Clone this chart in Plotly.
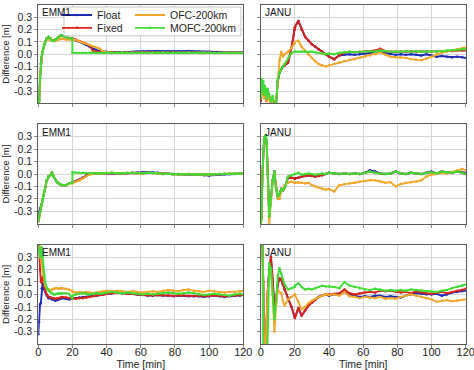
import plotly.graph_objects as go

# ---------------- data ----------------
T = [0, 0.5, 1, 1.5, 2, 2.5, 3, 3.5, 4, 5,
     6, 7, 8, 9, 10, 11, 12, 13, 14, 16,
     18, 19.9, 20, 22, 24, 26, 28, 30, 32, 34,
     36, 38, 40, 43, 46, 49, 52, 55, 58, 61,
     64, 67, 70, 73, 76, 79, 82, 85, 88, 91,
     94, 97, 100, 103, 106, 109, 112, 115, 118, 120]

series_names = ["Float", "Fixed", "OFC-200km", "MOFC-200km"]
stations = ["EMM1", "JANU"]

# ---- row 1, EMM1 ----
emm1_r1_float = [-0.40, -0.37, -0.19, -0.08, -0.02, 0.02, 0.05, 0.08, 0.10, 0.13,
                 0.14, 0.13, 0.11, 0.11, 0.12, 0.13, 0.14, 0.15, 0.15, 0.14,
                 0.13, 0.125, 0.125, 0.115, 0.105, 0.09, 0.075, 0.06, 0.045, 0.035,
                 0.025, 0.02, 0.02, 0.018, 0.017, 0.016, 0.018, 0.02, 0.022, 0.024,
                 0.025, 0.024, 0.026, 0.025, 0.024, 0.022, 0.024, 0.025, 0.026, 0.024,
                 0.022, 0.02, 0.021, 0.018, 0.017, 0.016, 0.015, 0.016, 0.015, 0.015]
emm1_r1_fixed = [-0.40, -0.38, -0.20, -0.08, -0.02, 0.02, 0.05, 0.08, 0.10, 0.13,
                 0.14, 0.13, 0.11, 0.11, 0.12, 0.13, 0.14, 0.15, 0.15, 0.14,
                 0.13, 0.125, 0.125, 0.118, 0.108, 0.097, 0.085, 0.072, 0.025, 0.02,
                 0.018, 0.015, 0.014, 0.013, 0.012, 0.013, 0.014, 0.013, 0.012, 0.014,
                 0.013, 0.012, 0.013, 0.014, 0.012, 0.013, 0.012, 0.013, 0.014, 0.012,
                 0.013, 0.012, 0.011, 0.012, 0.013, 0.012, 0.011, 0.012, 0.011, 0.012]
emm1_r1_ofc = [-0.40, -0.38, -0.20, -0.08, -0.02, 0.02, 0.05, 0.08, 0.10, 0.12,
               0.12, 0.12, 0.11, 0.105, 0.11, 0.115, 0.12, 0.125, 0.125, 0.12,
               0.12, 0.12, 0.12, 0.115, 0.105, 0.095, 0.085, 0.075, 0.065, 0.055,
               0.045, 0.02, 0.015, 0.013, 0.012, 0.013, 0.012, 0.011, 0.012, 0.013,
               0.012, 0.011, 0.012, 0.013, 0.012, 0.011, 0.012, 0.012, 0.013, 0.012,
               0.011, 0.012, 0.012, 0.011, 0.012, 0.013, 0.012, 0.011, 0.012, 0.012]
emm1_r1_mofc = [-0.40, -0.38, -0.20, -0.08, -0.02, 0.02, 0.05, 0.08, 0.10, 0.13,
                0.14, 0.13, 0.11, 0.11, 0.12, 0.13, 0.14, 0.15, 0.15, 0.14,
                0.13, 0.125, 0.012, 0.011, 0.010, 0.012, 0.009, 0.011, 0.013, 0.010,
                0.011, 0.009, 0.012, 0.010, 0.011, 0.013, 0.010, 0.009, 0.011, 0.012,
                0.010, 0.011, 0.009, 0.012, 0.010, 0.011, 0.010, 0.012, 0.011, 0.009,
                0.010, 0.012, 0.011, 0.010, 0.009, 0.011, 0.010, 0.012, 0.010, 0.011]

# ---- row 1, JANU ----
janu_r1_float = [-0.38, -0.25, -0.32, -0.25, -0.35, -0.28, -0.32, -0.38, -0.30, -0.35,
                 -0.39, -0.36, -0.40, -0.40, -0.22, -0.15, -0.12, -0.10, -0.09, -0.07,
                 0.05, 0.20, 0.22, 0.27, 0.20, 0.14, 0.11, 0.08, 0.06, 0.04,
                 0.02, 0.0, -0.02, -0.04, -0.01, -0.005, 0.0, -0.005, 0.0, 0.005,
                 0.01, 0.01, 0.02, 0.01, 0.0, -0.005, 0.0, -0.005, 0.0, -0.005,
                 -0.01, 0.0, -0.01, -0.02, -0.015, -0.02, -0.025, -0.02, -0.025, -0.03]
janu_r1_fixed = [-0.38, -0.25, -0.32, -0.25, -0.35, -0.28, -0.32, -0.38, -0.30, -0.35,
                 -0.39, -0.36, -0.40, -0.40, -0.22, -0.15, -0.12, -0.10, -0.09, -0.07,
                 0.05, 0.20, 0.22, 0.27, 0.20, 0.14, 0.11, 0.08, 0.06, 0.04,
                 0.02, 0.0, -0.02, -0.04, -0.01, 0.01, 0.02, 0.015, 0.02, 0.02,
                 0.025, 0.03, 0.045, 0.025, 0.02, 0.02, 0.02, 0.02, 0.02, 0.02,
                 0.02, 0.02, 0.02, 0.02, 0.025, 0.025, 0.025, 0.03, 0.03, 0.03]
janu_r1_ofc = [-0.36, -0.28, -0.33, -0.30, -0.36, -0.30, -0.35, -0.38, -0.34, -0.37,
               -0.40, -0.38, -0.40, -0.40, -0.25, -0.05, 0.02, -0.02, 0.0, 0.02,
               0.05, 0.09, 0.10, 0.11, 0.06, 0.03, 0.0, -0.03, -0.06, -0.08,
               -0.09, -0.10, -0.09, -0.08, -0.065, -0.055, -0.045, -0.04, -0.03, -0.02,
               -0.01, 0.0, 0.015, -0.005, -0.02, -0.025, -0.025, -0.03, -0.04, -0.045,
               -0.05, -0.035, -0.02, 0.0, 0.015, 0.025, 0.03, 0.04, 0.05, 0.055]
janu_r1_mofc = [-0.35, -0.20, -0.30, -0.22, -0.33, -0.26, -0.30, -0.36, -0.28, -0.33,
                -0.38, -0.34, -0.40, -0.40, -0.20, -0.15, -0.12, -0.10, -0.08, -0.03,
                0.01, 0.02, 0.02, 0.02, 0.022, 0.02, 0.018, 0.02, 0.015, 0.01,
                0.01, 0.0, 0.005, 0.0, 0.01, 0.015, 0.02, 0.015, 0.02, 0.02,
                0.025, 0.02, 0.03, 0.025, 0.02, 0.02, 0.02, 0.025, 0.02, 0.025,
                0.02, 0.02, 0.025, 0.02, 0.025, 0.03, 0.03, 0.035, 0.04, 0.04]

# ---- row 2, EMM1 ----
emm1_r2_float = [-0.36, -0.30, -0.27, -0.28, -0.24, -0.21, -0.17, -0.14, -0.11, -0.05,
                 -0.02, -0.01, 0.01, -0.02, -0.045, -0.065, -0.075, -0.085, -0.09, -0.09,
                 -0.075, -0.07, -0.065, -0.055, -0.045, -0.03, -0.012, 0.0, 0.004, 0.005,
                 0.005, 0.005, 0.007, 0.009, 0.006, 0.005, 0.008, 0.01, 0.012, 0.015,
                 0.016, 0.014, 0.01, 0.004, 0.002, 0.0, -0.002, -0.004, -0.002, -0.005,
                 -0.006, -0.01, -0.012, -0.008, -0.005, -0.002, 0.0, 0.001, 0.002, 0.002]
emm1_r2_fixed = [-0.38, -0.34, -0.31, -0.27, -0.24, -0.21, -0.17, -0.14, -0.11, -0.05,
                 -0.02, -0.01, 0.01, -0.02, -0.045, -0.065, -0.075, -0.085, -0.09, -0.09,
                 -0.075, -0.07, -0.068, -0.058, -0.048, -0.033, -0.015, -0.002, 0.004, 0.005,
                 0.006, 0.005, 0.008, 0.01, 0.006, 0.005, 0.008, 0.01, 0.008, 0.005,
                 0.01, 0.008, 0.005, 0.0, 0.002, -0.002, 0.0, -0.003, 0.0, -0.003,
                 -0.002, -0.005, -0.004, -0.002, 0.0, 0.002, 0.003, 0.002, 0.004, 0.003]
emm1_r2_ofc = [-0.38, -0.35, -0.31, -0.27, -0.24, -0.21, -0.17, -0.14, -0.11, -0.05,
               -0.02, -0.01, 0.01, -0.02, -0.045, -0.065, -0.075, -0.085, -0.09, -0.09,
               -0.078, -0.074, -0.072, -0.062, -0.052, -0.037, -0.018, -0.005, 0.0, 0.004,
               0.006, 0.005, 0.008, 0.01, 0.006, 0.005, 0.008, 0.01, 0.008, 0.005,
               0.01, 0.008, 0.005, 0.0, 0.002, -0.002, 0.0, -0.003, 0.0, -0.003,
               -0.002, -0.005, -0.004, -0.002, 0.0, 0.002, 0.003, 0.002, 0.004, 0.003]
emm1_r2_mofc = [-0.38, -0.35, -0.31, -0.27, -0.24, -0.21, -0.17, -0.14, -0.11, -0.05,
                -0.02, -0.01, 0.01, -0.02, -0.045, -0.065, -0.075, -0.085, -0.09, -0.09,
                -0.075, -0.07, 0.015, 0.012, 0.01, 0.01, 0.008, 0.008, 0.005, 0.005,
                0.006, 0.005, 0.008, 0.01, 0.006, 0.005, 0.008, 0.01, 0.008, 0.005,
                0.01, 0.008, 0.005, 0.0, 0.002, -0.002, 0.0, -0.003, 0.0, -0.003,
                -0.002, -0.005, -0.004, -0.002, 0.0, 0.002, 0.003, 0.002, 0.004, 0.003]

# ---- row 2, JANU ----
janu_r2_float = [-0.40, -0.36, 0.0, 0.20, 0.28, 0.30, 0.31, 0.25, 0.0, -0.34,
                 -0.20, -0.05, 0.02, -0.11, -0.18, -0.16, -0.12, -0.13, -0.11, -0.03,
                 -0.03, -0.035, -0.035, -0.03, -0.02, -0.015, -0.01, -0.015, -0.02, -0.015,
                 -0.01, 0.0, 0.01, 0.005, 0.0, 0.005, 0.0, 0.005, 0.0, 0.01,
                 0.03, 0.02, 0.005, 0.0, 0.005, 0.02, 0.005, 0.0, 0.01, 0.005,
                 0.0, 0.01, 0.02, 0.005, 0.02, 0.015, 0.01, 0.02, 0.015, 0.01]
janu_r2_fixed = [-0.40, -0.36, 0.0, 0.20, 0.28, 0.30, 0.31, 0.25, 0.0, -0.34,
                 -0.20, -0.05, 0.02, -0.11, -0.18, -0.16, -0.12, -0.13, -0.11, -0.03,
                 -0.03, -0.035, -0.035, -0.03, -0.02, -0.015, -0.01, -0.015, -0.02, -0.015,
                 -0.01, 0.0, 0.01, 0.005, 0.0, 0.005, 0.0, 0.005, 0.0, 0.01,
                 0.02, 0.01, 0.005, 0.0, 0.005, 0.02, 0.005, 0.0, 0.01, 0.005,
                 0.0, 0.01, 0.015, 0.005, 0.02, 0.015, 0.01, 0.02, 0.01, 0.0]
janu_r2_ofc = [-0.40, -0.36, 0.0, 0.20, 0.28, 0.30, 0.31, 0.25, 0.0, -0.40,
               -0.22, -0.06, 0.01, -0.12, -0.20, -0.20, -0.14, -0.12, -0.09, -0.07,
               -0.06, -0.07, -0.07, -0.065, -0.07, -0.075, -0.07, -0.09, -0.10, -0.11,
               -0.12, -0.125, -0.12, -0.14, -0.09, -0.08, -0.075, -0.07, -0.06, -0.055,
               -0.05, -0.05, -0.06, -0.07, -0.065, -0.10, -0.08, -0.07, -0.065, -0.06,
               -0.05, -0.02, -0.005, 0.0, 0.01, 0.005, 0.015, 0.03, 0.04, 0.03]
janu_r2_mofc = [-0.40, -0.36, 0.0, 0.20, 0.28, 0.30, 0.31, 0.25, 0.0, -0.34,
                -0.20, -0.05, 0.02, -0.12, -0.18, -0.16, -0.12, -0.13, -0.11, -0.02,
                -0.01, 0.0, 0.0, 0.01, -0.005, 0.0, 0.005, 0.0, -0.005, 0.0,
                0.005, 0.0, 0.01, 0.005, 0.0, 0.005, 0.0, 0.005, 0.0, 0.01,
                0.02, 0.01, 0.005, 0.0, 0.005, 0.02, 0.005, 0.0, 0.01, 0.005,
                0.0, 0.01, 0.015, 0.005, 0.02, 0.015, 0.01, 0.02, 0.01, 0.0]

# ---- row 3, EMM1 ----
emm1_r3_float = [-0.32, -0.22, -0.08, -0.07, 0.05, 0.09, 0.07, 0.04, 0.02, -0.01,
                 -0.03, -0.03, -0.04, -0.04, -0.05, -0.045, -0.04, -0.035, -0.03, -0.035,
                 -0.04, -0.035, -0.03, -0.03, -0.025, -0.02, -0.02, -0.015, -0.01, -0.01,
                 -0.005, 0.0, 0.005, 0.01, 0.015, 0.01, 0.005, 0.005, 0.0, -0.005,
                 -0.01, -0.01, -0.005, -0.01, -0.01, -0.015, -0.01, -0.01, -0.015, -0.015,
                 -0.015, -0.02, -0.015, -0.01, -0.015, -0.02, -0.015, -0.01, -0.01, -0.005]
emm1_r3_fixed = [0.40, 0.38, 0.20, 0.10, 0.12, 0.14, 0.10, 0.06, 0.03, 0.0,
                 -0.02, -0.02, -0.03, -0.03, -0.035, -0.03, -0.03, -0.025, -0.02, -0.025,
                 -0.03, -0.03, -0.035, -0.035, -0.03, -0.03, -0.025, -0.02, -0.015, -0.01,
                 -0.005, 0.0, 0.005, 0.01, 0.012, 0.01, 0.005, 0.005, 0.0, -0.003,
                 -0.008, -0.008, -0.004, -0.008, -0.008, -0.012, -0.008, -0.008, -0.012, -0.012,
                 -0.012, -0.016, -0.012, -0.008, -0.012, -0.016, -0.012, -0.008, -0.008, -0.004]
emm1_r3_ofc = [0.40, 0.40, 0.38, 0.30, 0.25, 0.20, 0.15, 0.10, 0.07, 0.05,
               0.04, 0.035, 0.04, 0.045, 0.05, 0.05, 0.045, 0.05, 0.05, 0.045,
               0.04, 0.03, 0.02, 0.015, 0.02, 0.015, 0.02, 0.015, 0.01, 0.015,
               0.02, 0.025, 0.03, 0.025, 0.03, 0.025, 0.02, 0.025, 0.02, 0.015,
               0.02, 0.025, 0.02, 0.03, 0.035, 0.03, 0.025, 0.035, 0.04, 0.03,
               0.025, 0.02, 0.03, 0.025, 0.02, 0.015, 0.02, 0.02, 0.025, 0.03]
emm1_r3_mofc = [0.40, 0.35, 0.30, 0.35, 0.38, 0.30, 0.22, 0.15, 0.10, 0.05,
                0.03, 0.02, 0.01, 0.0, 0.0, 0.005, 0.01, 0.005, 0.01, 0.01,
                0.005, -0.035, -0.01, 0.0, 0.005, 0.01, 0.005, 0.0, 0.005, 0.01,
                0.005, 0.01, 0.015, 0.02, 0.015, 0.01, 0.015, 0.01, 0.005, 0.0,
                0.005, 0.0, 0.005, 0.01, 0.015, 0.01, 0.005, 0.01, 0.015, 0.01,
                0.0, -0.005, 0.0, 0.005, 0.0, -0.005, -0.01, 0.0, 0.005, 0.0]

# ---- row 3, JANU ----
janu_r3_float = [0.42, 0.42, 0.42, 0.10, -0.42, -0.42, -0.35, -0.20, 0.0, 0.20,
                 0.30, 0.12, -0.10, -0.05, 0.08, 0.13, 0.12, 0.08, 0.04, -0.03,
                 -0.10, -0.17, -0.19, -0.11, -0.17, -0.13, -0.09, -0.065, -0.04, -0.02,
                 -0.01, 0.0, -0.01, 0.0, -0.005, 0.03, 0.0, -0.01, -0.02, -0.015,
                 -0.02, -0.01, -0.01, -0.02, -0.015, -0.02, -0.025, -0.01, 0.0, 0.01,
                 0.005, 0.0, 0.0, 0.005, -0.01, 0.0, 0.015, 0.02, 0.025, 0.03]
janu_r3_fixed = [0.42, 0.42, 0.42, 0.10, -0.42, -0.42, -0.35, -0.20, 0.0, 0.20,
                 0.30, 0.12, -0.10, -0.05, 0.08, 0.13, 0.12, 0.08, 0.04, -0.03,
                 -0.10, -0.17, -0.19, -0.11, -0.17, -0.13, -0.09, -0.065, -0.04, -0.02,
                 -0.01, 0.0, 0.0, 0.005, 0.01, 0.04, 0.01, 0.0, 0.01, 0.015,
                 0.02, 0.015, 0.03, 0.025, 0.03, 0.02, 0.015, 0.02, 0.01, 0.025,
                 0.015, 0.01, 0.005, 0.015, 0.02, 0.01, 0.02, 0.03, 0.035, 0.045]
janu_r3_ofc = [0.42, 0.42, 0.42, 0.10, -0.42, -0.42, -0.35, -0.20, 0.0, 0.15,
               0.20, 0.0, -0.30, -0.10, 0.04, 0.02, 0.01, -0.05, -0.09, -0.04,
               -0.02, 0.0, 0.0, -0.06, -0.12, -0.10, -0.07, -0.05, -0.035, -0.02,
               -0.01, 0.0, -0.005, 0.0, -0.01, 0.02, -0.015, -0.02, -0.03, -0.02,
               -0.025, -0.03, -0.02, -0.035, -0.03, -0.035, -0.02, -0.01, 0.0, -0.01,
               -0.02, -0.03, -0.04, -0.06, -0.05, -0.045, -0.055, -0.05, -0.045, -0.04]
janu_r3_mofc = [0.42, 0.42, 0.42, -0.42, -0.42, -0.42, -0.42, -0.42, -0.42, 0.25,
                0.21, 0.0, -0.20, -0.05, 0.15, 0.21, 0.17, 0.12, 0.08, 0.04,
                0.05, 0.06, 0.07, 0.09, 0.06, 0.04, 0.045, 0.04, 0.05, 0.06,
                0.07, 0.065, 0.065, 0.06, 0.05, 0.10, 0.07, 0.06, 0.05, 0.04,
                0.035, 0.045, 0.04, 0.03, 0.035, 0.03, 0.035, 0.03, 0.04, 0.035,
                0.03, 0.025, 0.025, 0.02, 0.03, 0.035, 0.05, 0.06, 0.07, 0.08]

panels = [
    [[emm1_r1_float, emm1_r1_fixed, emm1_r1_ofc, emm1_r1_mofc],
     [janu_r1_float, janu_r1_fixed, janu_r1_ofc, janu_r1_mofc]],
    [[emm1_r2_float, emm1_r2_fixed, emm1_r2_ofc, emm1_r2_mofc],
     [janu_r2_float, janu_r2_fixed, janu_r2_ofc, janu_r2_mofc]],
    [[emm1_r3_float, emm1_r3_fixed, emm1_r3_ofc, emm1_r3_mofc],
     [janu_r3_float, janu_r3_fixed, janu_r3_ofc, janu_r3_mofc]],
]

y_ticks = [-0.3, -0.2, -0.1, 0.0, 0.1, 0.2, 0.3]
y_ticktext = ["-0.3", "-0.2", "-0.1", "0.0", "0.1", "0.2", "0.3"]
x_ticks = [0, 20, 40, 60, 80, 100, 120]

# ---------------- style ----------------
W, H = 474, 370
colors = ["#1c2bb8", "#d8231c", "#f2a62a", "#3fdc34"]
FONT = "Liberation Sans, Arial, sans-serif"
# one single-entry legend per series, laid out as a 2x2 block
legend_of = ["legend", "legend2", "legend3", "legend4"]
legend_pos = [(57, 13), (57, 26), (130, 13), (130, 26)]   # px from top-left

x_dom = [[38.3 / W, 243.3 / W], [260.7 / W, 465.7 / W]]
y_dom = [[1 - 102 / H, 1 - 3 / H], [1 - 223 / H, 1 - 123 / H], [1 - 344 / H, 1 - 244 / H]]

fig = go.Figure()
layout = dict(width=W, height=H, margin=dict(l=0, r=0, t=0, b=0),
              paper_bgcolor="white", plot_bgcolor="white",
              font=dict(family=FONT, size=10, color="#222"))

annotations = []
for r in range(3):
    for c in range(2):
        k = r * 2 + c + 1
        xa = "x" if k == 1 else f"x{k}"
        ya = "y" if k == 1 else f"y{k}"
        for s in range(4):
            show = (r == 0 and c == 0)
            fig.add_trace(go.Scatter(
                x=T, y=panels[r][c][s], mode="lines+markers",
                name=series_names[s],
                line=dict(color=colors[s], width=1.9),
                marker=dict(color=colors[s], size=2.5),
                xaxis=xa, yaxis=ya, showlegend=show,
                legend=legend_of[s],
            ))
        xkey = "xaxis" if k == 1 else f"xaxis{k}"
        ykey = "yaxis" if k == 1 else f"yaxis{k}"
        xd = dict(
            domain=x_dom[c], anchor=ya, range=[0, 120], tickvals=x_ticks,
            showgrid=True, gridcolor="#d4d4d4", gridwidth=1, zeroline=False,
            showline=True, linecolor="#5a5a5a", linewidth=1, mirror=True,
            ticks="outside", ticklen=3, tickcolor="#8a8a8a",
            showticklabels=(r == 2), tickfont=dict(size=11, color="#222"),
            ticklabelstandoff=-5, ticklabeloverflow="allow",
            automargin=False,
        )
        if r == 2:
            xd["title"] = dict(text="Time [min]", font=dict(size=10.5, color="#222"),
                               standoff=10)
        layout[xkey] = xd
        yd = dict(
            domain=y_dom[r], anchor=xa, range=[-0.4, 0.4], tickvals=y_ticks,
            ticktext=y_ticktext,
            showgrid=True, gridcolor="#d4d4d4", gridwidth=1, zeroline=False,
            showline=True, linecolor="#5a5a5a", linewidth=1, mirror=True,
            ticks="outside", ticklen=3, tickcolor="#8a8a8a",
            showticklabels=(c == 0), tickfont=dict(size=10.5, color="#222"),
            automargin=False,
        )
        if c == 0:
            yd["title"] = dict(text="Difference [m]", font=dict(size=9.5, color="#222"))
        layout[ykey] = yd
        annotations.append(dict(
            text=stations[c], xref=f"{xa} domain", yref=f"{ya} domain",
            x=0.01, y=0.995, xanchor="left", yanchor="top", showarrow=False,
            font=dict(size=10, color="#111"),
        ))

layout["annotations"] = annotations
for name, (lx, ly) in zip(legend_of, legend_pos):
    layout[name] = dict(x=lx / W, y=1 - ly / H, xanchor="left", yanchor="middle",
                        bgcolor="rgba(0,0,0,0)", borderwidth=0,
                        font=dict(size=10.5, color="#222"))
layout["shapes"] = [dict(type="rect", xref="paper", yref="paper",
                         x0=64 / W, x1=241 / W, y0=1 - 34 / H, y1=1 - 5 / H,
                         fillcolor="white", line=dict(color="#c4c4c4", width=1),
                         layer="above")]
fig.update_layout(**layout)
# remove the browser's default 8px page margin so the figure sits at (0, 0)
fig.write_html("out.html", config={"displayModeBar": False},
               post_script="document.body.style.margin='0px';")
